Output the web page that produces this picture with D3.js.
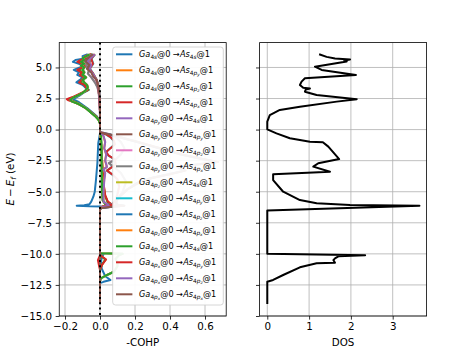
<!DOCTYPE html>
<html><head><meta charset="utf-8">
<script src="https://cdn.jsdelivr.net/npm/d3@7"></script>
<style>body{margin:0;background:#fff}svg{display:block}text{font-family:"DejaVu Sans",sans-serif}</style>
</head><body><svg id="c" width="474" height="355"></svg>
<script>
// ---------- DATA ----------
const orbitalsGa = ["4s","4p_y","4p_z","4p_x"];
const orbitalsAs = ["4s","4p_y","4p_z","4p_x"];
const yTicks = [-15,-12.5,-10,-7.5,-5,-2.5,0,2.5,5];
const cohpTicks = [-0.2,0,0.2,0.4,0.6];
const dosTicks = [0,1,2,3];

// [E, -COHP]
const s_Ga4s_As4s = [[6.06,-0.07],[5.9,-0.10],[5.75,-0.08],[5.6,-0.14],[5.45,-0.155],[5.3,-0.12],[5.15,-0.09],[5.0,-0.115],[4.8,-0.15],[4.6,-0.12],[4.4,-0.13],[4.2,-0.10],[4.0,-0.115],[3.8,-0.135],[3.6,-0.10],[3.4,-0.085],[3.2,-0.065],[3.0,-0.09],[2.8,-0.11],[2.6,-0.135],[2.45,-0.155],[2.35,-0.14],[2.2,-0.12],[2.0,-0.10],[1.7,-0.07],[1.4,-0.045],[1.1,-0.02],[0.8,-0.006],[0.5,0],[-0.3,0],[-1.1,-0.01],[-2.7,-0.015],[-4.05,-0.023],[-5.0,-0.03],[-5.4,-0.038],[-5.8,-0.05],[-6.0,-0.06],[-6.08,-0.09],[-6.13,-0.133],[-6.16,-0.06],[-6.19,0.01],[-6.25,0.01],[-6.32,0],[-9.95,0],[-10.05,0.02],[-10.2,0.012],[-10.6,0.006],[-11.2,0.01],[-11.8,0.03],[-12.1,0.06],[-12.25,0.02],[-12.35,0],[-14.04,0]];
const s_Ga4s_As4py = [[6.06,-0.048],[5.9,-0.083],[5.75,-0.063],[5.6,-0.105],[5.45,-0.125],[5.3,-0.098],[5.15,-0.073],[5.0,-0.098],[4.8,-0.125],[4.6,-0.103],[4.4,-0.112],[4.2,-0.088],[4.0,-0.103],[3.8,-0.115],[3.6,-0.088],[3.4,-0.078],[3.2,-0.068],[3.0,-0.098],[2.8,-0.125],[2.6,-0.155],[2.45,-0.183],[2.35,-0.172],[2.2,-0.14],[2.0,-0.112],[1.7,-0.078],[1.4,-0.051],[1.1,-0.025],[0.8,-0.008],[0.5,0],[-0.2,0],[-0.6,0.004],[-1.5,0.008],[-2.5,0.012],[-3.5,0.016],[-4.5,0.021],[-5.3,0.029],[-5.8,0.044],[-6.05,0.068],[-6.15,0.02],[-6.3,0],[-10.1,0],[-10.45,0.033],[-10.9,0.01],[-11.3,0],[-14.04,0]];
const s_Ga4s_As4pz = [[6.06,-0.045],[5.9,-0.08],[5.75,-0.06],[5.6,-0.10],[5.45,-0.12],[5.3,-0.095],[5.15,-0.07],[5.0,-0.095],[4.8,-0.12],[4.6,-0.10],[4.4,-0.11],[4.2,-0.085],[4.0,-0.10],[3.8,-0.11],[3.6,-0.085],[3.4,-0.075],[3.2,-0.065],[3.0,-0.095],[2.8,-0.12],[2.6,-0.15],[2.45,-0.175],[2.35,-0.165],[2.2,-0.135],[2.0,-0.11],[1.7,-0.075],[1.4,-0.05],[1.1,-0.024],[0.8,-0.007],[0.5,0],[-0.2,0],[-0.6,0.004],[-1.5,0.007],[-2.5,0.011],[-3.5,0.015],[-4.5,0.02],[-5.3,0.028],[-5.8,0.042],[-6.05,0.065],[-6.15,0.02],[-6.3,0],[-10.1,0],[-10.45,0.03],[-10.9,0.01],[-11.3,0],[-14.04,0]];
const s_Ga4s_As4px = [[6.06,-0.05],[5.9,-0.085],[5.75,-0.065],[5.6,-0.11],[5.45,-0.13],[5.3,-0.10],[5.15,-0.075],[5.0,-0.10],[4.8,-0.13],[4.6,-0.105],[4.4,-0.115],[4.2,-0.09],[4.0,-0.105],[3.8,-0.12],[3.6,-0.09],[3.4,-0.08],[3.2,-0.07],[3.0,-0.10],[2.8,-0.13],[2.6,-0.16],[2.45,-0.19],[2.35,-0.18],[2.2,-0.145],[2.0,-0.115],[1.7,-0.08],[1.4,-0.052],[1.1,-0.026],[0.8,-0.008],[0.5,0],[-0.2,0],[-0.6,0.004],[-1.5,0.008],[-2.5,0.012],[-3.5,0.016],[-4.5,0.022],[-5.3,0.03],[-5.8,0.045],[-6.05,0.07],[-6.15,0.02],[-6.3,0],[-10.1,0],[-10.45,0.035],[-10.9,0.01],[-11.3,0],[-14.04,0]];
const s_Ga4py_As4s = [[6.06,-0.058],[5.9,-0.078],[5.75,-0.098],[5.6,-0.088],[5.45,-0.108],[5.3,-0.088],[5.15,-0.108],[5.0,-0.088],[4.8,-0.098],[4.6,-0.088],[4.4,-0.098],[4.2,-0.078],[4.0,-0.098],[3.8,-0.088],[3.6,-0.073],[3.4,-0.068],[3.2,-0.078],[3.0,-0.093],[2.8,-0.118],[2.6,-0.148],[2.4,-0.168],[2.25,-0.158],[2.1,-0.128],[1.9,-0.103],[1.7,-0.078],[1.4,-0.054],[1.1,-0.029],[0.8,-0.01],[0.5,0],[-0.2,0],[-1.0,0.007],[-2.0,0.008],[-3.0,0.009],[-4.0,0.01],[-5.0,0.011],[-5.7,0.015],[-6.0,0.03],[-6.15,0.088],[-6.25,0.02],[-6.35,0],[-9.95,0],[-10.0,0.128],[-10.1,0.108],[-10.4,0.088],[-10.7,0.098],[-11.0,0.098],[-11.44,0.078],[-11.7,0.04],[-11.97,0.005],[-12.2,0],[-14.04,0]];
const s_Ga4py_As4py = [[6.06,-0.035],[5.8,-0.06],[5.5,-0.08],[5.2,-0.055],[4.9,-0.07],[4.6,-0.045],[4.3,-0.035],[4.0,-0.018],[3.5,-0.009],[3.0,-0.004],[2.0,0],[-0.25,0],[-0.45,0.075],[-0.7,0.13],[-1.0,0.21],[-1.4,0.31],[-1.7,0.39],[-2.0,0.46],[-2.3,0.56],[-2.5,0.63],[-2.6,0.665],[-2.8,0.55],[-3.0,0.44],[-3.3,0.48],[-3.6,0.39],[-3.9,0.29],[-4.3,0.21],[-4.8,0.155],[-5.3,0.115],[-5.8,0.088],[-6.05,0.098],[-6.12,0.135],[-6.2,0.068],[-6.3,0.01],[-6.4,0],[-14.04,0]];
const s_Ga4py_As4pz = [[6.06,-0.042],[5.8,-0.068],[5.5,-0.052],[5.2,-0.078],[4.9,-0.058],[4.5,-0.068],[4.2,-0.048],[3.8,-0.028],[3.4,-0.014],[3.0,-0.007],[2.0,-0.002],[1.0,0],[-0.2,0],[-0.35,0.048],[-0.6,0.088],[-1.0,0.118],[-1.5,0.138],[-2.0,0.118],[-2.4,0.088],[-2.7,0.05],[-3.0,0.078],[-3.5,0.118],[-4.2,0.148],[-5.0,0.128],[-5.6,0.098],[-6.0,0.088],[-6.1,0.118],[-6.2,0.05],[-6.3,0],[-14.04,0]];
const s_Ga4py_As4px = [[6.06,-0.045],[5.8,-0.07],[5.5,-0.055],[5.2,-0.08],[4.9,-0.06],[4.5,-0.07],[4.2,-0.05],[3.8,-0.03],[3.4,-0.015],[3.0,-0.008],[2.0,-0.002],[1.0,0],[-0.2,0],[-0.35,0.05],[-0.6,0.09],[-1.0,0.12],[-1.5,0.14],[-2.0,0.12],[-2.4,0.09],[-2.7,0.05],[-3.0,0.08],[-3.5,0.12],[-4.2,0.15],[-5.0,0.13],[-5.6,0.10],[-6.0,0.09],[-6.1,0.12],[-6.2,0.05],[-6.3,0],[-14.04,0]];
const s_Ga4pz_As4s = [[6.06,-0.059],[5.9,-0.079],[5.75,-0.099],[5.6,-0.089],[5.45,-0.109],[5.3,-0.089],[5.15,-0.109],[5.0,-0.089],[4.8,-0.099],[4.6,-0.089],[4.4,-0.099],[4.2,-0.079],[4.0,-0.099],[3.8,-0.089],[3.6,-0.074],[3.4,-0.069],[3.2,-0.079],[3.0,-0.094],[2.8,-0.119],[2.6,-0.149],[2.4,-0.169],[2.25,-0.159],[2.1,-0.129],[1.9,-0.104],[1.7,-0.079],[1.4,-0.054],[1.1,-0.029],[0.8,-0.01],[0.5,0],[-0.2,0],[-1.0,0.007],[-2.0,0.008],[-3.0,0.009],[-4.0,0.01],[-5.0,0.011],[-5.7,0.015],[-6.0,0.03],[-6.15,0.089],[-6.25,0.02],[-6.35,0],[-9.95,0],[-10.0,0.129],[-10.1,0.109],[-10.4,0.089],[-10.7,0.099],[-11.0,0.099],[-11.44,0.079],[-11.7,0.04],[-11.97,0.005],[-12.2,0],[-14.04,0]];
const s_Ga4pz_As4py = [[6.06,-0.028],[5.7,-0.048],[5.3,-0.038],[4.9,-0.058],[4.5,-0.038],[4.0,-0.018],[3.5,-0.009],[2.5,-0.004],[1.5,0],[-0.2,0],[-0.35,0.028],[-0.6,0.058],[-0.9,0.078],[-1.2,0.083],[-1.5,0.058],[-1.8,0.034],[-2.1,0.048],[-2.4,0.083],[-2.8,0.088],[-3.1,0.058],[-3.3,0.038],[-3.6,0.068],[-4.0,0.098],[-4.6,0.108],[-5.2,0.098],[-5.7,0.088],[-6.0,0.068],[-6.1,0.03],[-6.14,0.088],[-6.2,0.04],[-6.3,0],[-14.04,0]];
const s_Ga4pz_As4pz = [[6.06,-0.038],[5.8,-0.063],[5.5,-0.083],[5.2,-0.058],[4.9,-0.073],[4.6,-0.048],[4.3,-0.038],[4.0,-0.019],[3.5,-0.01],[3.0,-0.005],[2.0,0],[-0.25,0],[-0.45,0.078],[-0.7,0.135],[-1.0,0.215],[-1.4,0.315],[-1.7,0.395],[-2.0,0.465],[-2.3,0.565],[-2.5,0.635],[-2.6,0.67],[-2.8,0.555],[-3.0,0.445],[-3.3,0.485],[-3.6,0.395],[-3.9,0.295],[-4.3,0.215],[-4.8,0.158],[-5.3,0.118],[-5.8,0.089],[-6.05,0.099],[-6.12,0.138],[-6.2,0.069],[-6.3,0.01],[-6.4,0],[-14.04,0]];
const s_Ga4pz_As4px = [[6.06,-0.029],[5.8,-0.049],[5.5,-0.069],[5.2,-0.049],[4.8,-0.059],[4.5,-0.039],[4.0,-0.019],[3.5,-0.01],[2.5,-0.004],[1.5,0],[-0.2,0],[-0.5,0.019],[-1.0,0.029],[-1.5,0.024],[-2.0,0.035],[-2.5,0.029],[-3.0,0.039],[-3.2,0.02],[-3.5,0.029],[-4.0,0.024],[-5.0,0.02],[-5.8,0.02],[-6.1,0.049],[-6.2,0.02],[-6.3,0],[-14.04,0]];
const s_Ga4px_As4s = [[6.06,-0.06],[5.9,-0.08],[5.75,-0.10],[5.6,-0.09],[5.45,-0.11],[5.3,-0.09],[5.15,-0.11],[5.0,-0.09],[4.8,-0.10],[4.6,-0.09],[4.4,-0.10],[4.2,-0.08],[4.0,-0.10],[3.8,-0.09],[3.6,-0.075],[3.4,-0.07],[3.2,-0.08],[3.0,-0.095],[2.8,-0.12],[2.6,-0.15],[2.4,-0.17],[2.25,-0.16],[2.1,-0.13],[1.9,-0.105],[1.7,-0.08],[1.4,-0.055],[1.1,-0.03],[0.8,-0.01],[0.5,0],[-0.2,0],[-0.4,0.006],[-1.0,0.008],[-2.0,0.009],[-3.0,0.01],[-4.0,0.011],[-5.0,0.012],[-5.7,0.016],[-6.0,0.03],[-6.15,0.09],[-6.25,0.02],[-6.35,0],[-9.95,0],[-10.0,0.13],[-10.1,0.11],[-10.4,0.09],[-10.7,0.10],[-11.0,0.10],[-11.44,0.08],[-11.7,0.04],[-11.97,0.005],[-12.2,0],[-14.04,0]];
const s_Ga4px_As4py = [[6.06,-0.03],[5.7,-0.05],[5.3,-0.04],[4.9,-0.06],[4.5,-0.04],[4.0,-0.02],[3.5,-0.01],[2.5,-0.004],[1.5,0],[-0.2,0],[-0.35,0.03],[-0.6,0.06],[-0.9,0.08],[-1.2,0.085],[-1.5,0.06],[-1.8,0.035],[-2.1,0.05],[-2.4,0.085],[-2.8,0.09],[-3.1,0.06],[-3.3,0.04],[-3.6,0.07],[-4.0,0.10],[-4.6,0.11],[-5.2,0.10],[-5.7,0.09],[-6.0,0.07],[-6.1,0.03],[-6.14,0.09],[-6.2,0.04],[-6.3,0],[-10.1,0],[-10.5,-0.012],[-11.0,-0.005],[-11.3,0],[-14.04,0]];
const s_Ga4px_As4pz = [[6.06,-0.03],[5.8,-0.05],[5.5,-0.07],[5.2,-0.05],[4.8,-0.06],[4.5,-0.04],[4.0,-0.02],[3.5,-0.01],[2.5,-0.004],[1.5,0],[-0.2,0],[-0.5,0.02],[-1.0,0.03],[-1.5,0.024],[-2.0,0.036],[-2.5,0.03],[-3.0,0.04],[-3.2,0.02],[-3.5,0.03],[-4.0,0.025],[-5.0,0.02],[-5.8,0.02],[-6.1,0.05],[-6.2,0.02],[-6.3,0],[-14.04,0]];
const s_Ga4px_As4px = [[6.06,-0.04],[5.8,-0.065],[5.5,-0.085],[5.2,-0.06],[4.9,-0.075],[4.6,-0.05],[4.3,-0.04],[4.0,-0.02],[3.5,-0.01],[3.0,-0.005],[2.0,0],[-0.25,0],[-0.45,0.08],[-0.7,0.14],[-1.0,0.22],[-1.4,0.32],[-1.7,0.40],[-2.0,0.47],[-2.3,0.57],[-2.5,0.64],[-2.6,0.676],[-2.8,0.56],[-3.0,0.45],[-3.3,0.49],[-3.6,0.40],[-3.9,0.30],[-4.3,0.22],[-4.8,0.16],[-5.3,0.12],[-5.8,0.09],[-6.05,0.10],[-6.12,0.14],[-6.2,0.07],[-6.3,0.01],[-6.4,0],[-14.04,0]];

const cohpSeries = [
  s_Ga4s_As4s, s_Ga4s_As4py, s_Ga4s_As4pz, s_Ga4s_As4px,
  s_Ga4py_As4s, s_Ga4py_As4py, s_Ga4py_As4pz, s_Ga4py_As4px,
  s_Ga4pz_As4s, s_Ga4pz_As4py, s_Ga4pz_As4pz, s_Ga4pz_As4px,
  s_Ga4px_As4s, s_Ga4px_As4py, s_Ga4px_As4pz, s_Ga4px_As4px
];

// total DOS [E, DOS]
const dosCurve = [[6.06,1.24],[5.85,1.42],[5.72,1.62],[5.64,1.98],[5.56,1.84],[5.48,1.9],[5.06,1.14],[4.8,1.3],[4.39,2.12],[4.13,0.9],[3.86,0.82],[3.59,0.78],[3.36,0.86],[3.3,1.02],[3.22,0.92],[3.05,0.9],[2.78,1.18],[2.44,2.14],[2.25,1.66],[1.84,0.78],[1.58,0.30],[1.17,0.06],[0.64,0.0],[0.02,0.0],[-0.3,0.22],[-0.7,0.54],[-0.97,1.02],[-1.02,1.33],[-1.37,1.46],[-2.37,1.72],[-2.71,1.22],[-2.98,1.1],[-3.39,1.5],[-3.45,1.1],[-3.6,0.14],[-4.06,0.14],[-5.0,0.38],[-5.67,0.78],[-5.93,1.18],[-6.07,1.98],[-6.12,3.64],[-6.52,0.0],[-10.0,0.0],[-10.12,2.34],[-10.2,1.70],[-10.36,1.62],[-10.5,1.58],[-10.71,1.62],[-10.76,1.18],[-11.08,0.78],[-11.7,0.38],[-12.1,0.14],[-12.24,0.0],[-14.04,0.0]];

// ---------- DRAW ----------
const svg = d3.select("#c");
const FS = 10.3;
const y = d3.scaleLinear().domain([-15,7]).range([316,42.6]);
const xL = d3.scaleLinear().domain([-0.2329,0.7211]).range([59.25,226.2]);
const xR = d3.scaleLinear().domain([-0.184,3.811]).range([259.6,426.6]);
const colors = d3.schemeCategory10;

function panel(x, xTicks, id){
  const [x0,x1] = x.range(), [y0,y1] = y.range();
  svg.append("clipPath").attr("id",id).append("rect")
    .attr("x",x0).attr("y",y1).attr("width",x1-x0).attr("height",y0-y1);
  const g = svg.append("g");
  g.selectAll("line.gx").data(xTicks).join("line").attr("class","gx")
    .attr("x1",d=>x(d)).attr("x2",d=>x(d)).attr("y1",y0).attr("y2",y1)
    .attr("stroke","#b0b0b0").attr("stroke-width",0.8);
  g.selectAll("line.gy").data(yTicks).join("line").attr("class","gy")
    .attr("x1",x0).attr("x2",x1).attr("y1",d=>y(d)).attr("y2",d=>y(d))
    .attr("stroke","#b0b0b0").attr("stroke-width",0.8);
}
function axes(x, xTicks, xFmt, showY){
  const [x0,x1] = x.range(), [y0,y1] = y.range();
  svg.append("rect").attr("x",x0).attr("y",y1).attr("width",x1-x0).attr("height",y0-y1)
    .attr("fill","none").attr("stroke","black").attr("stroke-width",0.8);
  const ax = svg.append("g").attr("transform",`translate(0,${y0})`)
    .call(d3.axisBottom(x).tickValues(xTicks).tickSize(3.6).tickPadding(3.5).tickFormat(xFmt));
  const ay = svg.append("g").attr("transform",`translate(${x0},0)`)
    .call(d3.axisLeft(y).tickValues(yTicks).tickSize(3.6).tickPadding(3.5)
      .tickFormat(showY ? d3.format(".1f") : ""));
  [ax,ay].forEach(a=>{
    a.select(".domain").remove();
    a.attr("font-family",null).attr("font-size",null);
    a.selectAll("line").attr("stroke","black").attr("stroke-width",0.8);
    a.selectAll("text").attr("fill","black").style("font-size",FS+"px").style("font-family","'DejaVu Sans'");
  });
}

// left panel
panel(xL, cohpTicks, "clipL");
const lineL = d3.line().x(d=>xL(d[1])).y(d=>y(d[0]));
const gL = svg.append("g").attr("clip-path","url(#clipL)");
gL.selectAll("path.cohp").data(cohpSeries).join("path").attr("class","cohp")
  .attr("d",lineL).attr("fill","none").attr("stroke",(d,i)=>colors[i%10])
  .attr("stroke-width",2).attr("stroke-linejoin","round");
gL.append("line").attr("x1",xL(0)).attr("x2",xL(0)).attr("y1",y.range()[1]).attr("y2",y.range()[0])
  .attr("stroke","black").attr("stroke-width",2).attr("stroke-dasharray","2,3.3");
axes(xL, cohpTicks, d3.format(".1f"), true);

// right panel
panel(xR, dosTicks, "clipR");
const lineR = d3.line().x(d=>xR(d[1])).y(d=>y(d[0]));
svg.append("g").attr("clip-path","url(#clipR)").append("path").datum(dosCurve)
  .attr("d",lineR).attr("fill","none").attr("stroke","black").attr("stroke-width",2).attr("stroke-linejoin","round");
axes(xR, dosTicks, d3.format("d"), false);

// axis labels
svg.append("text").attr("x",(xL.range()[0]+xL.range()[1])/2).attr("y",345.5).attr("text-anchor","middle")
  .style("font-size",FS+"px").text("-COHP");
svg.append("text").attr("x",(xR.range()[0]+xR.range()[1])/2).attr("y",345.5).attr("text-anchor","middle")
  .style("font-size",FS+"px").text("DOS");
const yl = svg.append("text").attr("transform","translate(14,179) rotate(-90)").attr("text-anchor","middle")
  .style("font-size",FS+"px");
yl.append("tspan").style("font-style","italic").text("E");
yl.append("tspan").text("\u2009\u2212\u2009");
yl.append("tspan").style("font-style","italic").text("E");
yl.append("tspan").style("font-style","italic").style("font-size","7.2px").attr("dy",2).text("f");
yl.append("tspan").attr("dy",-2).text(" (eV)");

// legend
const LF = 8.2;
const lg = svg.append("g");
lg.append("rect").attr("x",112.7).attr("y",47).attr("width",110.6).attr("height",258).attr("rx",2.8)
  .attr("fill","white").attr("fill-opacity",0.93).attr("stroke","#cccccc").attr("stroke-width",0.8);
const labels = [];
orbitalsGa.forEach(a=>orbitalsAs.forEach(b=>labels.push([a,b])));
function addOrb(t, orb){
  const [main, sub2] = orb.split("_");
  t.append("tspan").style("font-size","5.8px").attr("dy",2).text(main[0]);
  t.append("tspan").style("font-size","5.8px").style("font-style","italic").text(main.slice(1));
  if(sub2){
    t.append("tspan").style("font-size","4.2px").style("font-style","italic").attr("dy",1.3).text(sub2);
    return 3.3;
  }
  return 2;
}
labels.forEach((lab,i)=>{
  const yy = 54.3 + 16*i;
  lg.append("line").attr("x1",116).attr("x2",132.4).attr("y1",yy).attr("y2",yy)
    .attr("stroke",colors[i%10]).attr("stroke-width",2);
  const t = lg.append("text").attr("x",139).attr("y",yy+2.8).style("font-size",LF+"px").attr("fill","black");
  t.append("tspan").style("font-style","italic").text("Ga");
  let s = addOrb(t, lab[0]);
  t.append("tspan").attr("dy",-s).style("font-size",LF+"px").text("@0 \u2192");
  t.append("tspan").style("font-style","italic").text("As");
  s = addOrb(t, lab[1]);
  t.append("tspan").attr("dy",-s).style("font-size",LF+"px").text("@1");
});
</script></body></html>
